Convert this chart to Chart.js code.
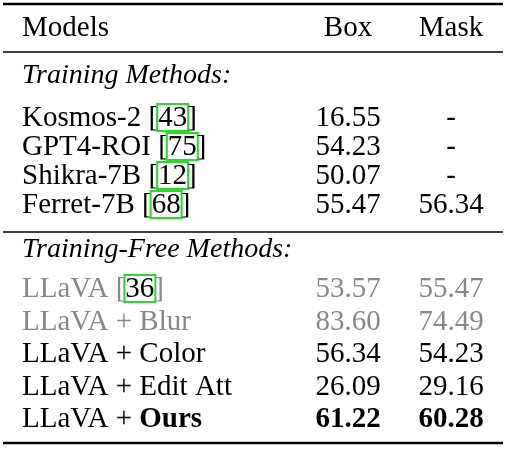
<!DOCTYPE html>
<html><head>
<script src="https://cdn.jsdelivr.net/npm/chart.js@4"></script>
<style>body{margin:0;background:#fff}#c{width:505px;height:450px}</style>
</head><body>
<div id="c"><canvas id="tbl"></canvas></div>
<script>
// table data
const headers = ["Models", "Box", "Mask"];
const groups = ["Training Methods:", "Training-Free Methods:"];
const models = ["Kosmos-2", "GPT4-ROI", "Shikra-7B", "Ferret-7B", "LLaVA", "LLaVA + Blur", "LLaVA + Color", "LLaVA + Edit Att", "LLaVA + "];
const cites = ["43", "75", "12", "68", "36", "", "", "", ""];
const boxVals = ["16.55", "54.23", "50.07", "55.47", "53.57", "83.60", "56.34", "26.09", "61.22"];
const maskVals = ["-", "-", "-", "56.34", "55.47", "74.49", "54.23", "29.16", "60.28"];
const grayRows = [4, 5];
const rowY = [126, 155, 184, 213, 297, 330, 362, 395, 427];

const FONT = '"Liberation Serif", "DejaVu Serif", serif';
const colBox = 348, colMask = 451, left = 22, SIZE = 29;

const tablePlugin = {
  id: "table",
  afterDraw(chart) {
    const ctx = chart.ctx;
    ctx.save();
    ctx.textBaseline = "alphabetic";
    ctx.fillStyle = "#000";
    ctx.strokeStyle = "#000";
    const rule = (y, w) => { ctx.lineWidth = w; ctx.beginPath(); ctx.moveTo(3, y); ctx.lineTo(503, y); ctx.stroke(); };
    rule(4, 2.5); rule(52, 1.5); rule(232, 1.5); rule(443, 2.5);

    ctx.font = SIZE + "px " + FONT;
    ctx.textAlign = "left";
    ctx.fillText(headers[0], left, 36);
    ctx.textAlign = "center";
    ctx.fillText(headers[1], colBox, 36);
    ctx.fillText(headers[2], colMask, 36);

    ctx.font = "italic " + (SIZE - 1) + "px " + FONT;
    ctx.textAlign = "left";
    ctx.fillText(groups[0], left, 83);
    ctx.fillText(groups[1], left, 257);

    models.forEach((m, i) => {
      const gray = grayRows.includes(i);
      const last = i === models.length - 1;
      const y = rowY[i];
      ctx.fillStyle = gray ? "#888" : "#000";
      ctx.font = SIZE + "px " + FONT;
      ctx.textAlign = "left";
      let x = left;
      ctx.fillText(m, x, y);
      x += ctx.measureText(m).width;
      if (last) {
        ctx.font = "bold " + SIZE + "px " + FONT;
        ctx.fillText("Ours", x, y);
      }
      if (cites[i]) {
        const sp = ctx.measureText(" [").width;
        ctx.fillText(" [", x, y);
        x += sp;
        const cw = ctx.measureText(cites[i]).width;
        ctx.fillStyle = "#000";
        ctx.fillText(cites[i], x, y);
        ctx.strokeStyle = "#22dd22";
        ctx.lineWidth = 2;
        ctx.strokeRect(x - 1, y - 22, cw + 2, 27);
        x += cw;
        ctx.fillStyle = gray ? "#888" : "#000";
        ctx.fillText("]", x, y);
      }
      ctx.font = (last ? "bold " : "") + SIZE + "px " + FONT;
      ctx.textAlign = "center";
      ctx.fillText(boxVals[i], colBox, y);
      ctx.fillText(maskVals[i], colMask, y);
    });
    ctx.restore();
  }
};

new Chart(document.getElementById("tbl").getContext("2d"), {
  type: "bar",
  data: { labels: models, datasets: [{ data: [], label: "" }] },
  options: {
    responsive: true, maintainAspectRatio: false, animation: false,
    layout: { padding: 0 },
    plugins: { legend: { display: false }, tooltip: { enabled: false } },
    scales: { x: { display: false }, y: { display: false } }
  },
  plugins: [tablePlugin]
});
</script>
</body></html>
